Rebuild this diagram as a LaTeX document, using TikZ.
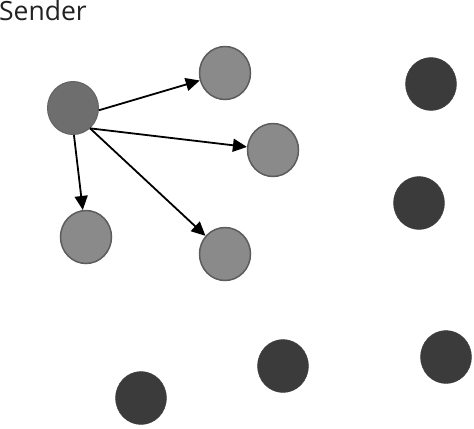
\documentclass[tikz,border=0pt]{standalone}
\usepackage{fontspec}
\setmainfont{Open Sans}
\usetikzlibrary{shapes.geometric,arrows.meta}
\definecolor{senderfill}{HTML}{6E6E6E}
\definecolor{lightfill}{HTML}{8A8A8A}
\definecolor{lightdraw}{HTML}{5C5C5C}
\definecolor{darkfill}{HTML}{3B3B3B}
\definecolor{textcol}{HTML}{222222}
\tikzset{
  peer/.style={ellipse, minimum width=51bp, minimum height=53bp, inner sep=0pt},
  sendernode/.style={peer, fill=senderfill, draw=senderfill!90!black, line width=1bp},
  reached/.style={peer, fill=lightfill, draw=lightdraw, line width=1.5bp},
  idle/.style={peer, fill=darkfill, draw=darkfill},
  msg/.style={line width=1.8bp, -{Triangle[length=14bp,width=13bp]}},
}
\begin{document}
\begin{tikzpicture}[x=1bp,y=-1bp]
\useasboundingbox (0,0) rectangle (474,428);
\node[anchor=north west, inner sep=0pt, text=textcol, font=\fontsize{26.5bp}{30bp}\selectfont] (lbl) at (-1,0) {Sender};
\node[sendernode] (s) at (73,108) {};
\node[reached] (t1) at (225,73) {};
\node[reached] (t2) at (273,150) {};
\node[reached] (t3) at (225,254) {};
\node[reached] (t4) at (86,237) {};
\node[idle] (d1) at (431,84) {};
\node[idle] (d2) at (419,203) {};
\node[idle] (d3) at (141,398) {};
\node[idle] (d4) at (283,366) {};
\node[idle] (d5) at (446,357) {};
\draw[msg] (s.-5) -- (t1);
\draw[msg] (s.-50) -- (t2);
\draw[msg] (s.-50) -- (t3);
\draw[msg] (s.-88) -- (t4);
\end{tikzpicture}
\end{document}
